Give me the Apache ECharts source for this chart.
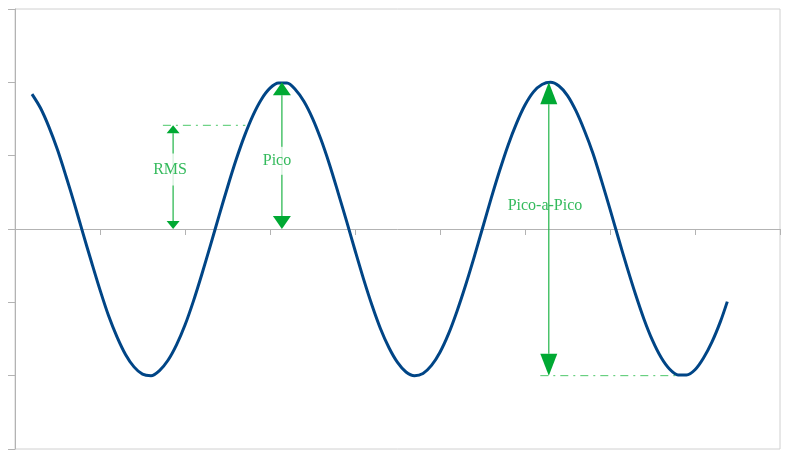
<!DOCTYPE html>
<html>
<head>
<meta charset="utf-8">
<script src="https://cdn.jsdelivr.net/npm/echarts@6/dist/echarts.min.js"></script>
<style>html,body{margin:0;padding:0;background:#fff;}#c{width:790px;height:459px;}</style>
</head>
<body>
<div id="c"></div>
<script>
// Waveform samples (time units, amplitude units)
const timeValues = [0.2,0.3,0.4,0.5,0.6,0.7,0.8,0.9,1.0,1.1,1.2,1.3,1.4,1.5,1.6,1.7,1.8,1.9,2.0,2.1,2.2,2.3,2.4,2.5,2.6,2.7,2.8,2.9,3.0,3.1,3.2,3.3,3.4,3.5,3.6,3.7,3.8,3.9,4.0,4.1,4.2,4.3,4.4,4.5,4.6,4.7,4.8,4.9,5.0,5.1,5.2,5.3,5.4,5.5,5.6,5.7,5.8,5.9,6.0,6.1,6.2,6.3,6.4,6.5,6.6,6.7,6.8,6.9,7.0,7.1,7.2,7.3,7.4,7.5,7.6,7.7,7.8,7.9,8.0,8.1,8.2,8.3,8.38];
const signalValues = [1.84,1.65,1.39,1.08,0.72,0.34,-0.06,-0.45,-0.83,-1.18,-1.47,-1.71,-1.88,-1.98,-2.00,-1.93,-1.79,-1.58,-1.31,-0.98,-0.61,-0.22,0.18,0.57,0.94,1.27,1.55,1.77,1.92,1.99,1.99,1.90,1.74,1.51,1.22,0.88,0.50,0.11,-0.29,-0.68,-1.04,-1.36,-1.62,-1.82,-1.95,-2.00,-1.97,-1.86,-1.68,-1.43,-1.12,-0.77,-0.39,0.01,0.41,0.79,1.14,1.44,1.69,1.87,1.97,2.00,1.95,1.82,1.61,1.34,1.03,0.66,0.27,-0.13,-0.52,-0.89,-1.23,-1.52,-1.75,-1.91,-1.99,-1.99,-1.92,-1.76,-1.54,-1.26,-0.99];

// Annotations: [time, from, to]
const arrowValues = [[1.86, 0, 1.414], [3.14, 0, 2], [6.28, -2, 2]];
const rmsLevel = [[1.74, 1.414], [2.71, 1.414]];
const troughLevel = [[6.18, -2], [7.80, -2]];
const labelNames = ['RMS', 'Pico', 'Pico-a-Pico'];
const labelAnchors = [[1.824, 0.81], [3.082, 0.93], [6.235, 0.31]];

// Styles (kept out of the data)
const headSizes = [[13, 8], [18, 13], [17, 22]];
const labelPads = [[8, 1], [6, 1], [0, 0]];
const labelBg = ['#ffffff', '#ffffff', 'transparent'];
const GREEN = '#00a933';

const chart = echarts.init(document.getElementById('c'), null, {renderer: 'canvas'});

const dashStyle = {color: '#4cc86a', width: 1, type: [8, 5, 2, 5]};

chart.setOption({
  animation: false,
  backgroundColor: '#ffffff',
  grid: {left: 15, right: 10, top: 9, bottom: 10, show: true, borderColor: '#d0d0d0', borderWidth: 1},
  xAxis: {
    type: 'value', min: 0, max: 9, interval: 1,
    axisLine: {show: true, onZero: true, lineStyle: {color: '#b3b3b3', width: 1}},
    axisTick: {show: true, length: 6, lineStyle: {color: '#b3b3b3'}},
    axisLabel: {show: false},
    splitLine: {show: false}
  },
  yAxis: {
    type: 'value', min: -3, max: 3, interval: 1,
    axisLine: {show: true, lineStyle: {color: '#b3b3b3', width: 1}},
    axisTick: {show: true, length: 7, lineStyle: {color: '#b3b3b3'}},
    axisLabel: {show: false},
    splitLine: {show: false}
  },
  series: [
    {
      type: 'line', data: rmsLevel, symbol: 'none', lineStyle: dashStyle, z: 2, silent: true
    },
    {
      type: 'line', data: troughLevel, symbol: 'none', lineStyle: dashStyle, z: 2, silent: true
    },
    {
      type: 'line',
      data: timeValues.map((t, i) => [t, signalValues[i]]),
      symbol: 'none', smooth: 0.3,
      lineStyle: {color: '#004586', width: 3},
      z: 3
    },
    {
      type: 'custom',
      data: arrowValues,
      z: 4,
      renderItem: function (params, api) {
        const i = params.dataIndex;
        const x = api.value(0);
        const p1 = api.coord([x, api.value(1)]);
        const p2 = api.coord([x, api.value(2)]);
        const cx = p1[0];
        const top = Math.min(p1[1], p2[1]);
        const bot = Math.max(p1[1], p2[1]);
        const w = headSizes[i][0], h = headSizes[i][1];
        return {
          type: 'group',
          children: [
            {type: 'line', shape: {x1: cx, y1: top + h, x2: cx, y2: bot - h}, style: {stroke: '#1fb446', lineWidth: 1.2}},
            {type: 'polygon', shape: {points: [[cx, top], [cx - w / 2, top + h], [cx + w / 2, top + h]]}, style: {fill: GREEN}},
            {type: 'polygon', shape: {points: [[cx, bot], [cx - w / 2, bot - h], [cx + w / 2, bot - h]]}, style: {fill: GREEN}}
          ]
        };
      }
    },
    {
      type: 'scatter',
      z: 5,
      symbolSize: 1,
      itemStyle: {color: 'rgba(0,0,0,0)'},
      data: labelAnchors.map((p, i) => ({
        value: p,
        name: labelNames[i],
        label: {
          show: true, position: 'inside', formatter: labelNames[i],
          fontFamily: 'Liberation Serif', fontSize: 16, color: GREEN,
          backgroundColor: labelBg[i], padding: labelPads[i]
        }
      }))
    }
  ]
});
</script>
</body>
</html>
